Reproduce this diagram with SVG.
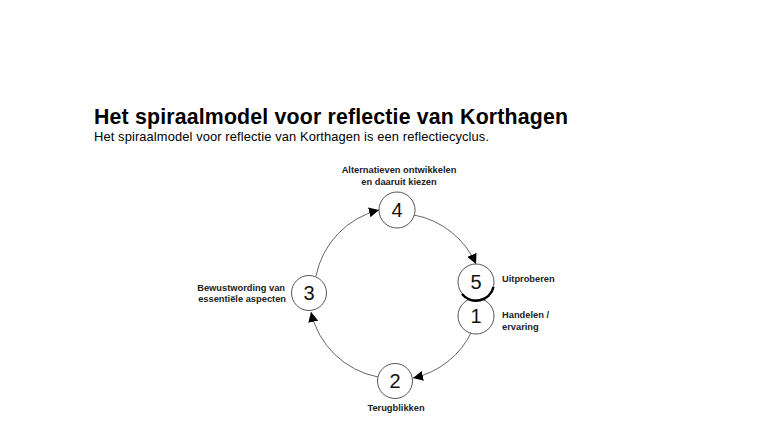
<svg xmlns="http://www.w3.org/2000/svg" width="784" height="441" viewBox="0 0 784 441">
<style>
.t{font-family:"Liberation Sans",Arial,sans-serif;fill:#000}
.lbl{font-family:"Liberation Sans",Arial,sans-serif;font-size:9.3px;font-weight:bold;fill:#222}
.num{font-family:"Liberation Sans",Arial,sans-serif;font-size:20px;fill:#111;text-anchor:middle}
.node{fill:#fff;stroke:#555;stroke-width:1}
.arc{fill:none;stroke:#666;stroke-width:1;marker-end:url(#ah)}
</style>
<defs>
<marker id="ah" viewBox="0 0 10 10" refX="10" refY="5" markerWidth="10" markerHeight="10" markerUnits="userSpaceOnUse" orient="auto">
<path d="M0,0 L10,5 L0,10 Z" fill="#000"/>
</marker>
</defs>
<rect width="784" height="441" fill="#fff"/>
<text class="t" x="94" y="124" font-size="21.3" font-weight="bold" textLength="474" lengthAdjust="spacing">Het spiraalmodel voor reflectie van Korthagen</text>
<text class="t" x="94" y="141" font-size="12.9" textLength="395" lengthAdjust="spacing">Het spiraalmodel voor reflectie van Korthagen is een reflectiecyclus.</text>
<g id="connectors">
<path class="arc" d="M414,215 A85,85 0 0 1 476,264"/>
<path class="arc" d="M472,331 A85,85 0 0 1 413,378"/>
<path class="arc" d="M378,377 A85,85 0 0 1 311,312"/>
<path class="arc" d="M316,276 A85,85 0 0 1 379,210"/>
</g>
<g id="node4">
<circle class="node" cx="397" cy="210" r="18"/>
<text class="num" x="397" y="217">4</text>
<text class="lbl" x="399" y="173" text-anchor="middle">Alternatieven ontwikkelen</text>
<text class="lbl" x="399" y="185" text-anchor="middle">en daaruit kiezen</text>
</g>
<g id="node3">
<circle class="node" cx="309" cy="293" r="17.5"/>
<text class="num" x="309" y="300">3</text>
<text class="lbl" x="285" y="291" text-anchor="end">Bewustwording van</text>
<text class="lbl" x="286" y="302" text-anchor="end">essentiële aspecten</text>
</g>
<g id="node2">
<circle class="node" cx="395" cy="381" r="17.5"/>
<text class="num" x="395" y="388">2</text>
<text class="lbl" x="396" y="411" text-anchor="middle">Terugblikken</text>
</g>
<g id="node1">
<circle class="node" cx="476" cy="316" r="18"/>
<text class="num" x="476" y="323">1</text>
<text class="lbl" x="502" y="318">Handelen /</text>
<text class="lbl" x="502" y="330">ervaring</text>
</g>
<g id="node5">
<circle class="node" cx="476" cy="282" r="18"/>
<path d="M462,294 A18,18 0 0 0 493.5,287" fill="none" stroke="#000" stroke-width="2.5"/>
<text class="num" x="476" y="289">5</text>
<text class="lbl" x="502" y="282">Uitproberen</text>
</g>
</svg>
